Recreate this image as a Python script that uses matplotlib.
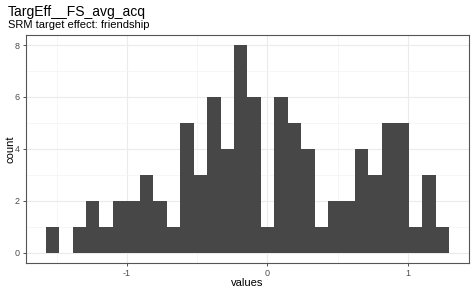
import matplotlib
matplotlib.use("Agg")
import matplotlib.pyplot as plt
import numpy as np

plt.rcParams['font.family'] = ['Liberation Sans', 'DejaVu Sans']

# Histogram data (30 bins)
bin_start = -1.579
bin_width = 0.0958
counts = [1, 0, 1, 2, 1, 2, 2, 3, 2, 1, 5, 3, 6, 4, 8,
          6, 1, 6, 5, 4, 1, 2, 2, 4, 3, 5, 5, 1, 3, 1]
x_ticks = [-1, 0, 1]
x_tick_labels = ["-1", "0", "1"]
y_ticks = [0, 2, 4, 6, 8]
title = "TargEff__FS_avg_acq"
subtitle = "SRM target effect: friendship"

edges = bin_start + bin_width * np.arange(len(counts) + 1)

fig = plt.figure(figsize=(4.74, 2.92), dpi=100)
W, H = 474, 292
left, right, top, bottom = 25.5, 469.3, 34.7, 263
ax = fig.add_axes([left / W, 1 - bottom / H, (right - left) / W, (bottom - top) / H])

ax.bar(edges[:-1], counts, width=bin_width, align='edge', color='#474747', edgecolor='none', zorder=3)

xmin, xmax = edges[0], edges[-1]
xr = xmax - xmin
ax.set_xlim(xmin - 0.05 * xr, xmax + 0.05 * xr)
ax.set_ylim(-0.4, 8.4)

ax.set_xticks(x_ticks)
ax.set_xticklabels(x_tick_labels)
ax.set_xticks([-1.5, -0.5, 0.5], minor=True)
ax.set_yticks(y_ticks)
ax.set_yticks([1, 3, 5, 7], minor=True)

ax.grid(True, which='major', color='#ebebeb', linewidth=0.8, zorder=0)
ax.grid(True, which='minor', color='#f3f3f3', linewidth=0.5, zorder=0)
for s in ax.spines.values():
    s.set_color('#555555')
    s.set_linewidth(0.8)
ax.tick_params(which='major', length=2.5, width=0.6, color='#333333', labelsize=6.5, labelcolor='#4d4d4d', pad=1.5)
ax.tick_params(which='minor', length=0)

ax.set_xlabel("values", fontsize=8)
ax.xaxis.set_label_coords(0.5, (263 - 277.5) / (bottom - top))
ax.set_ylabel("count", fontsize=8)
ax.yaxis.set_label_coords((15.5 - left) / (right - left), 0.5)

fig.text(8 / W, 1 - 12 / H, title, fontsize=10, va='center', ha='left')
fig.text(8 / W, 1 - 25 / H, subtitle, fontsize=8, va='center', ha='left')

fig.savefig("out.png", dpi=100)
